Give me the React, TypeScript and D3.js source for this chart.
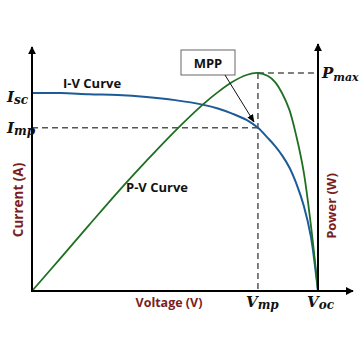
import React from "react";
import * as d3 from "d3";

// Data
const voltage = [0, 2, 4, 6, 8, 10, 12, 13, 14, 15, 15.8, 16.5, 17, 17.5, 18, 18.5, 19, 19.5, 19.8, 20];
const current = [5.0, 5.0, 4.97, 4.95, 4.9, 4.82, 4.7, 4.61, 4.48, 4.32, 4.12, 3.86, 3.66, 3.42, 3.12, 2.7, 2.16, 1.38, 0.6, 0];
const power = [0, 9.8, 19.7, 29.5, 38.8, 47.7, 55.8, 59.3, 62.3, 64.4, 65, 64.1, 62.3, 58.9, 54.0, 45.9, 35.5, 19.7, 8.35, 0];

const V_OC = 20;
const V_MP = 15.8;
const I_SC = 5;
const I_MP = 4.12;
const P_MAX = 65;

const BLUE = "#1d5b98";
const GREEN = "#1f6f22";
const RED = "#7a1e1e";
const DASH = "#555";

export default function App() {
  const x = d3.scaleLinear().domain([0, V_OC]).range([32, 318]);
  const yI = d3.scaleLinear().domain([0, I_SC]).range([291, 93]);
  const yP = d3.scaleLinear().domain([0, P_MAX]).range([291, 73]);

  const ivPts = voltage.map((v, i) => [v, current[i]] as [number, number]);
  const pvPts = voltage.map((v, i) => [v, power[i]] as [number, number]);

  const ivLine = d3
    .line<[number, number]>()
    .x((d) => x(d[0]))
    .y((d) => yI(d[1]))
    .curve(d3.curveCatmullRom.alpha(0.5));
  const pvLine = d3
    .line<[number, number]>()
    .x((d) => x(d[0]))
    .y((d) => yP(d[1]))
    .curve(d3.curveCatmullRom.alpha(0.5));

  const x0 = x(0);
  const y0 = yI(0);
  const xR = x(V_OC);
  const xMp = x(V_MP);
  const yMp = yI(I_MP);
  const yPm = yP(P_MAX);

  const mathFont = "'DejaVu Serif', serif";
  const sansFont = "'Open Sans', 'Noto Sans', sans-serif";

  return (
    <svg width={360} height={360} style={{ display: "block", position: "absolute", left: 0, top: 0 }}>
      <defs>
        <marker id="ah" viewBox="0 0 10 10" refX="9" refY="5" markerWidth="4" markerHeight="4" orient="auto">
          <path d="M0,0 L10,5 L0,10 z" fill="#000" />
        </marker>
        <marker id="ahs" viewBox="0 0 10 10" refX="9" refY="5" markerWidth="8" markerHeight="8" orient="auto">
          <path d="M0,1 L10,5 L0,9 z" fill="#000" />
        </marker>
      </defs>
      <rect x={0} y={0} width={360} height={360} fill="#fff" />

      {/* dashed guide lines */}
      <line x1={x0} x2={xMp} y1={yMp} y2={yMp} stroke={DASH} strokeWidth={1.5} strokeDasharray="6,4" />
      <line x1={xMp} x2={xMp} y1={yPm} y2={y0} stroke={DASH} strokeWidth={1.5} strokeDasharray="6,4" />
      <line x1={xMp} x2={xR} y1={yPm} y2={yPm} stroke={DASH} strokeWidth={1.5} strokeDasharray="6,4" />

      {/* curves */}
      <path d={ivLine(ivPts) || ""} fill="none" stroke={BLUE} strokeWidth={2} />
      <path d={pvLine(pvPts) || ""} fill="none" stroke={GREEN} strokeWidth={1.8} />

      {/* axes */}
      <line x1={x0} x2={x0} y1={y0} y2={47} stroke="#000" strokeWidth={2} markerEnd="url(#ah)" />
      <line x1={xR} x2={xR} y1={y0} y2={44} stroke="#000" strokeWidth={2} markerEnd="url(#ah)" />
      <line x1={x0 - 1} x2={353} y1={y0} y2={y0} stroke="#000" strokeWidth={2} markerEnd="url(#ah)" />

      {/* MPP box */}
      <rect x={181} y={50} width={54} height={25} fill="#fff" stroke="#666" strokeWidth={1} />
      <text x={208} y={67.5} textAnchor="middle" fontFamily={sansFont} fontWeight="bold" fontSize={13} fill="#111">
        MPP
      </text>
      <line x1={225} y1={75} x2={xMp - 4} y2={yMp - 6} stroke="#111" strokeWidth={1} markerEnd="url(#ahs)" />

      {/* curve labels */}
      <text x={63} y={88} fontFamily={sansFont} fontWeight="bold" fontSize={13} fill="#111">I-V Curve</text>
      <text x={126} y={192} fontFamily={sansFont} fontWeight="bold" fontSize={13} fill="#111">P-V Curve</text>

      {/* axis titles */}
      <text x={169} y={307} textAnchor="middle" fontFamily={sansFont} fontWeight="bold" fontSize={12.5} fill={RED}>Voltage (V)</text>
      <text transform="translate(22.5,200) rotate(-90)" textAnchor="middle" fontFamily={sansFont} fontWeight="bold" fontSize={13.5} fill={RED}>Current (A)</text>
      <text transform="translate(335.5,206) rotate(-90)" textAnchor="middle" fontFamily={sansFont} fontWeight="bold" fontSize={13} fill={RED}>Power (W)</text>

      {/* math labels */}
      <text x={7} y={102} fontFamily={mathFont} fontStyle="italic" fontWeight="bold" fontSize={15} fill="#111">
        I<tspan fontSize={12} dy={2}>sc</tspan>
      </text>
      <text x={7} y={133} fontFamily={mathFont} fontStyle="italic" fontWeight="bold" fontSize={15} fill="#111">
        I<tspan fontSize={12} dy={2}>mp</tspan>
      </text>
      <text x={246} y={307} fontFamily={mathFont} fontStyle="italic" fontWeight="bold" fontSize={15} fill="#111">
        V<tspan fontSize={12} dy={2}>mp</tspan>
      </text>
      <text x={307} y={307} fontFamily={mathFont} fontStyle="italic" fontWeight="bold" fontSize={15} fill="#111">
        V<tspan fontSize={12} dy={2}>oc</tspan>
      </text>
      <text x={322} y={78} fontFamily={mathFont} fontStyle="italic" fontWeight="bold" fontSize={15} fill="#111">
        P<tspan fontSize={11} dy={3}>max</tspan>
      </text>
    </svg>
  );
}
